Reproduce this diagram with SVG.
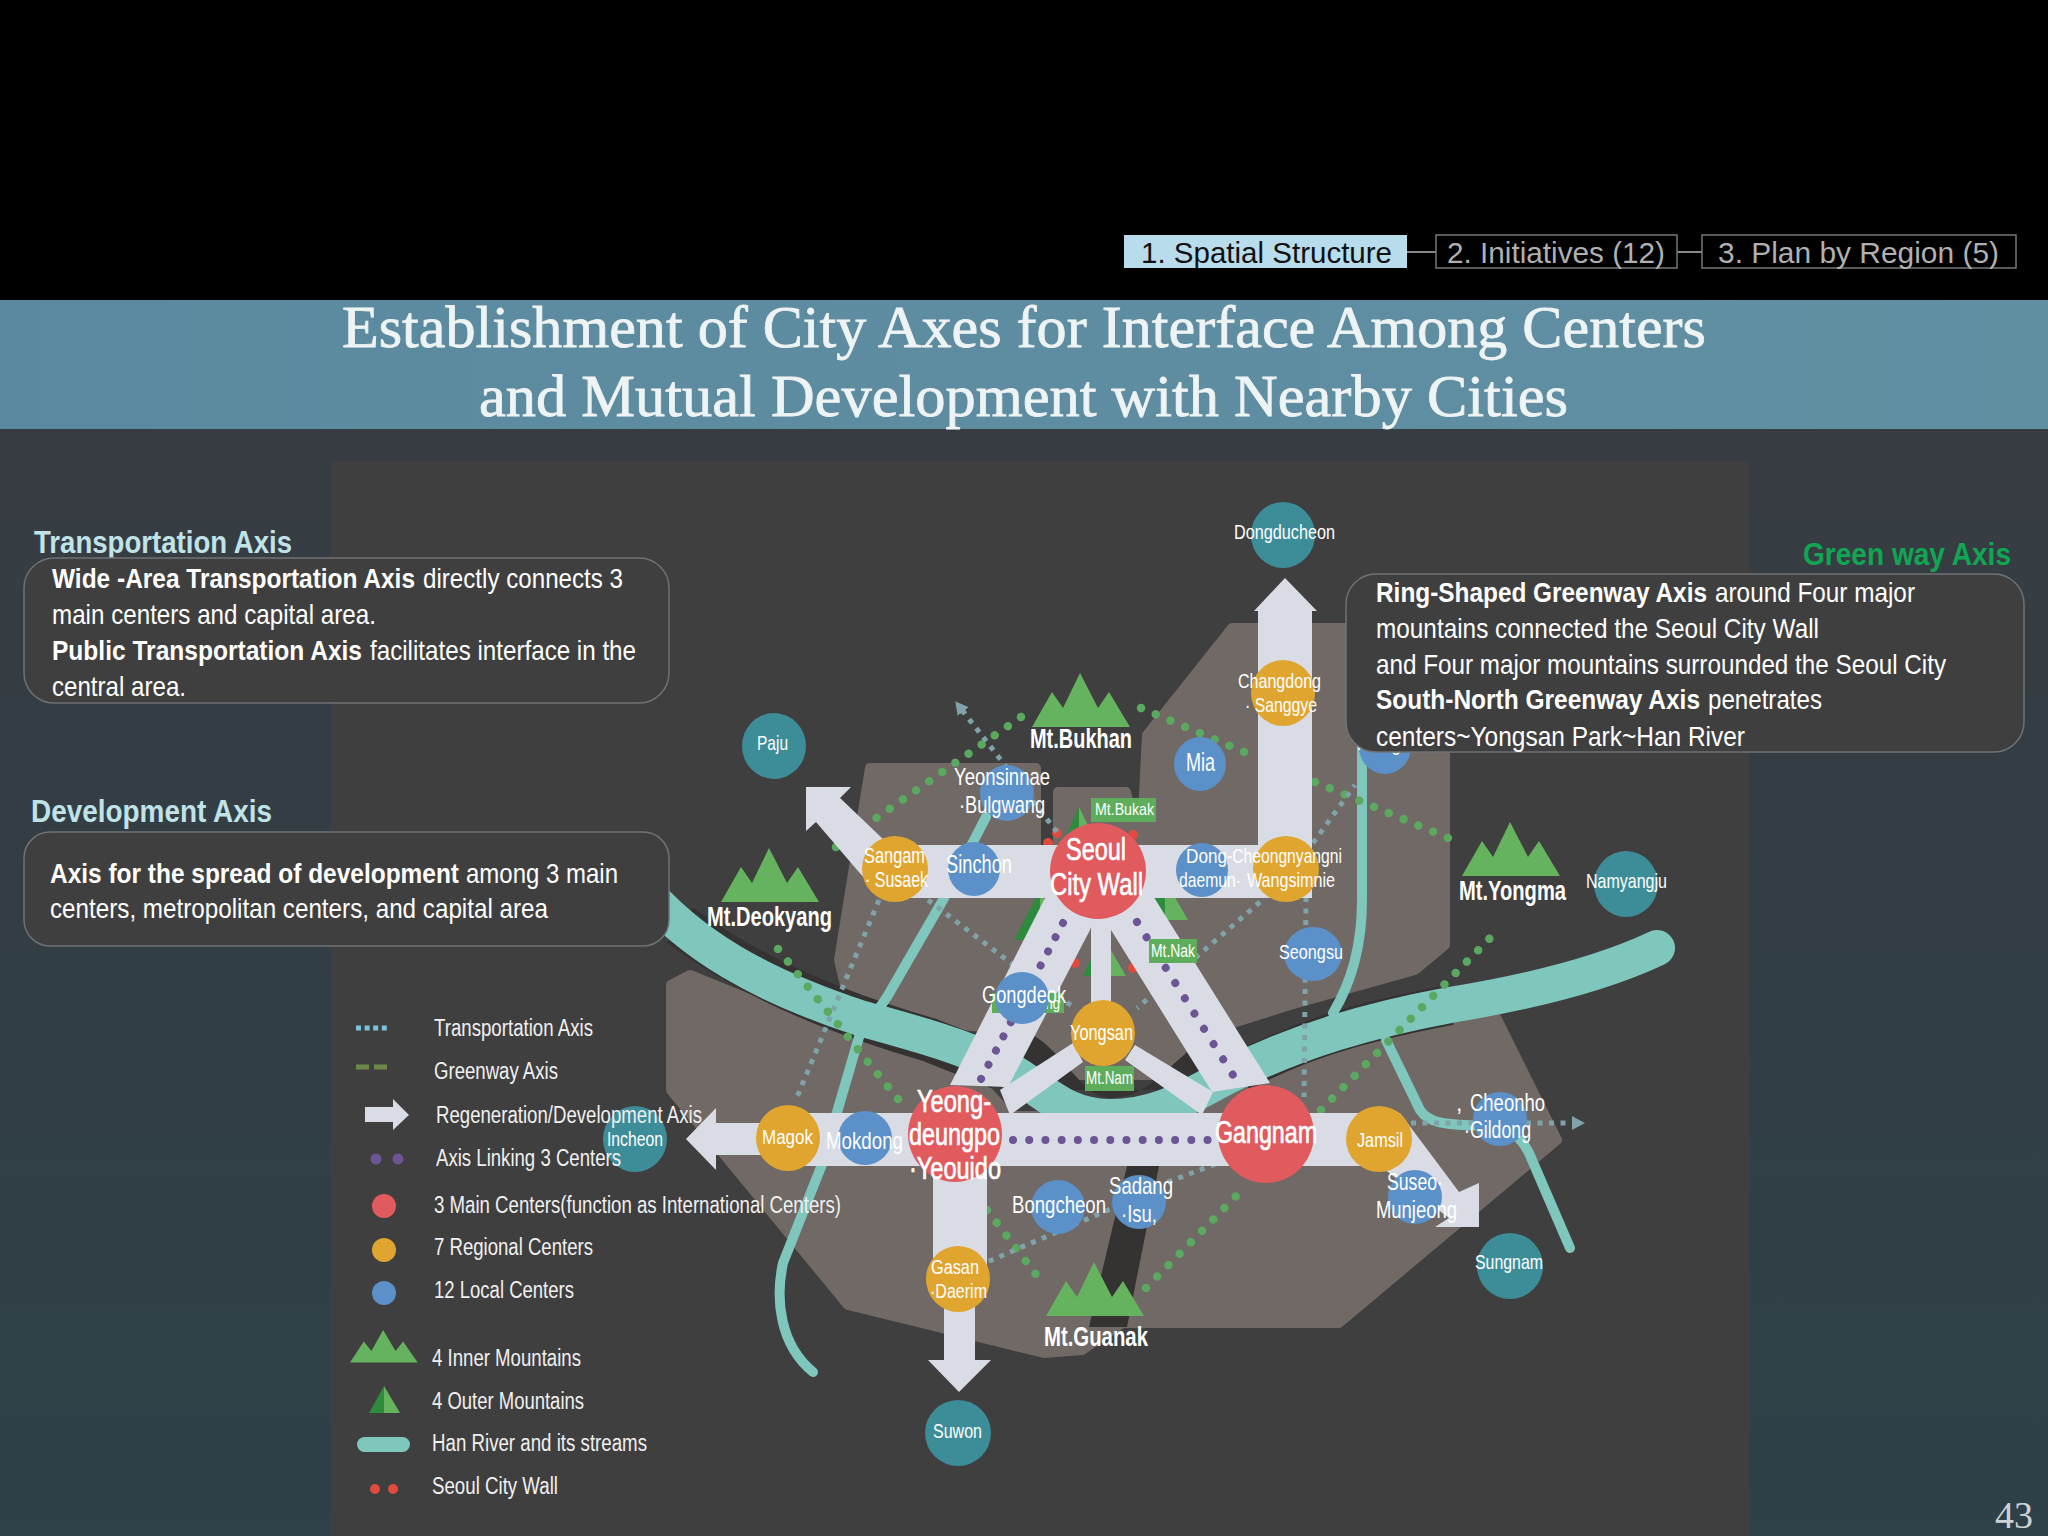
<svg xmlns="http://www.w3.org/2000/svg" width="2048" height="1536" viewBox="0 0 2048 1536">
<style>
text{font-family:"Liberation Sans",Arial,sans-serif}
.n{fill:#fff}
.big{stroke:#fff;stroke-width:.7}
.bar{fill:#d9dce4}
.land{fill:#716965;stroke:#716965;stroke-width:10;stroke-linejoin:round}
.river{fill:none;stroke:#7fc6bc}
.stream{fill:none;stroke:#7fc6bc;stroke-width:10;stroke-linecap:round;stroke-linejoin:round}
.bank{fill:none;stroke:#343332}
.mtn{fill:#66b35f}
.g{fill:none;stroke:#5ba961;stroke-width:8.5;stroke-linecap:round;stroke-dasharray:0.01 16}
.p{fill:none;stroke:#6d5494;stroke-width:8;stroke-linecap:round}
.t{fill:none;stroke:#7fa3a9;stroke-width:5;stroke-dasharray:5 6.5}
.red{fill:#e05a5e}.yel{fill:#dfa52f}.blu{fill:#5b90c8}.tea{fill:#3d8d99}
.lab{fill:#5dad5c}
.box{fill:#403f40;stroke:#6e7274;stroke-width:1.5}
.body{fill:#fff;font-size:28px}
.leg{fill:#f0f0f0;font-size:23px}
.tab{fill:none;stroke:#777;stroke-width:1.5}
.tabt{font-size:29px;fill:#b0b0b0}
.wall{fill:#df4b3d}
</style>
<defs>
<linearGradient id="bg" x1="0" y1="0" x2="0" y2="1"><stop offset="0" stop-color="#373c42"/><stop offset="1" stop-color="#2e4148"/></linearGradient>
<linearGradient id="band" x1="0" y1="0" x2="1" y2="0"><stop offset="0" stop-color="#5b8aa0"/><stop offset="1" stop-color="#618fa2"/></linearGradient>
<path id="mt" d="M0,54 L20,19 L31,35 L48,0 L66,35 L77,19 L98,54 Z"/>
<marker id="ah" markerUnits="userSpaceOnUse" markerWidth="14" markerHeight="16" refX="2" refY="8" orient="auto"><path d="M0,1 L13,8 L0,15 Z" fill="#7fa3a9"/></marker>
</defs>

<g id="background">
<rect width="2048" height="1536" fill="#000"/>
<rect y="429" width="2048" height="1107" fill="url(#bg)"/>
<rect y="300" width="2048" height="129" fill="url(#band)"/>
<rect x="331" y="461" width="1418" height="1075" fill="#403f3f"/>
</g>

<g id="tabs">
<path d="M1407,252H1436M1677,252H1702" stroke="#888" stroke-width="2"/>
<g id="tab1"><rect x="1124" y="235" width="283" height="33" fill="#b9dcec"/><text x="1141" y="263" font-size="29" fill="#111" textLength="251" lengthAdjust="spacingAndGlyphs">1. Spatial Structure</text></g>
<g id="tab2"><rect class="tab" x="1436" y="235" width="241" height="33"/><text class="tabt" x="1447" y="263" textLength="218" lengthAdjust="spacingAndGlyphs">2. Initiatives (12)</text></g>
<g id="tab3"><rect class="tab" x="1702" y="235" width="314" height="33"/><text class="tabt" x="1718" y="263" textLength="281" lengthAdjust="spacingAndGlyphs">3. Plan by Region (5)</text></g>
</g>

<g id="title" fill="#eef3f4" stroke="#eef3f4" stroke-width=".8" font-size="60">
<text x="342" y="347" style="font-family:'Liberation Serif',serif" textLength="1364" lengthAdjust="spacingAndGlyphs">Establishment of City Axes for Interface Among Centers</text>
<text x="479" y="416" style="font-family:'Liberation Serif',serif" textLength="1089" lengthAdjust="spacingAndGlyphs">and Mutual Development with Nearby Cities</text>
</g>

<g id="land">
<path class="land" d="M870,768 L1036,768 L1036,855 L1058,855 L1058,792 L1126,792 L1141,855 L1147,735 L1232,628 L1445,628 L1445,945 L1415,970 L1290,1005 L1195,1035 L1160,1075 L1060,1075 L1020,1030 L960,1025 L845,985 L839,960 Z"/>
<path class="land" d="M671,985 L690,975 L800,1020 L960,1060 L1010,1116 L1200,1116 L1240,1085 L1400,1035 L1495,1015 L1557,1140 L1339,1323 L1122,1323 L1082,1350 L1044,1353 L848,1305 L671,1090 Z"/>
<path d="M1127,1166 L1159,1166 L1127,1327 L1089,1327 Z" fill="#343332"/>
<path d="M1020,1030 C1060,1040 1080,1100 1112,1098 C1150,1098 1170,1060 1205,1040 L1215,1090 L1010,1090 Z" fill="#343332"/>
</g>

<g id="rivers">
<path class="bank" stroke-width="44" d="M680,925 C760,985 860,1020 930,1040 L1000,1068"/>
<path class="bank" stroke-width="40" d="M1240,1072 C1300,1040 1360,1022 1450,1005"/>
<path class="river" stroke-width="36" stroke-linecap="round" d="M640,885 C690,945 760,985 860,1018 C910,1032 960,1045 1000,1065 C1040,1085 1060,1117 1110,1117 C1160,1117 1190,1095 1230,1075 C1300,1040 1370,1020 1450,1005 C1530,992 1600,975 1657,948"/>
<path class="stream" d="M986,817 L943,900 L887,997 L859,1037 L821,1167 L783,1263 C775,1300 780,1345 813,1372"/>
<path class="stream" d="M1362,745 L1362,900 C1362,950 1350,985 1333,1013"/>
<path class="stream" d="M1386,1040 L1420,1110 C1430,1125 1450,1124 1480,1126 C1510,1128 1520,1135 1529,1153 L1570,1248"/>
</g>

<g id="mountains">
<use href="#mt" class="mtn" id="mt-bukhan" x="1032" y="673"/>
<use href="#mt" class="mtn" id="mt-deokyang" x="721" y="848"/>
<use href="#mt" class="mtn" id="mt-yongma" x="1462" y="822"/>
<use href="#mt" class="mtn" id="mt-guanak" transform="translate(1046,1262)"/>
<g id="outer-mountains">
<path d="M1079,807 L1055,860 H1079Z" fill="#2e8b3e"/><path d="M1079,807 L1105,860 H1079Z" fill="#66b35f"/>
<path d="M1040,890 L1014,940 H1040Z" fill="#2e8b3e"/><path d="M1040,890 L1062,940 H1040Z" fill="#66b35f"/>
<path d="M1165,880 L1145,920 H1165Z" fill="#2e8b3e"/><path d="M1165,880 L1188,920 H1165Z" fill="#66b35f"/>
<path d="M1102,935 L1083,976 H1102Z" fill="#2e8b3e"/><path d="M1102,935 L1126,976 H1102Z" fill="#66b35f"/>
</g>
<g id="wall-dots">
<circle class="wall" cx="1057" cy="833" r="5"/><circle class="wall" cx="1048" cy="843" r="5"/><circle class="wall" cx="1133" cy="835" r="5"/><circle class="wall" cx="1075" cy="963" r="5"/><circle class="wall" cx="1133" cy="968" r="5"/>
</g>
</g>

<g id="connectors">
<g id="greenway">
<path class="g" d="M1021,717 L875,819"/><path class="g" d="M836,847 L823,856"/>
<path class="g" d="M778,949 L808,987 L837,1023 L867,1061 L907,1110"/>
<path class="g" d="M987,1210 L1044,1285"/>
<path class="g" d="M1146,1288 L1245,1187"/>
<path class="g" d="M1321,1110 L1497,931"/>
<path class="g" d="M1141,708 L1256,757"/>
<path class="g" d="M1315,782 L1460,843"/>
</g>
<g id="transport">
<path class="t" d="M1057,832 L962,710" marker-end="url(#ah)"/>
<path class="t" d="M879,900 L797,1097"/>
<path class="t" d="M928,900 L1020,970 L1072,1006"/>
<path class="t" d="M1260,902 L1137,1008"/>
<path class="t" d="M1313,843 L1355,785"/>
<path class="t" d="M1306,897 L1304,1097"/>
<path class="t" d="M1411,1123 H1574" marker-end="url(#ah)"/>
<path class="t" d="M1226,1160 L1160,1185 L1120,1205 L987,1262"/>
</g>
<g id="development-arrows">
<path class="bar" d="M895,845 H1258 V611 H1254 L1285,578 L1317,611 H1312 V898 H895 Z"/>
<path class="bar" d="M806,787 H851 L840,798 L905,860 L870,885 L816,822 L806,831 Z"/>
<path class="bar" d="M1372,1113 H1400 L1459,1192 L1479,1183 V1227 H1435 L1449,1218 L1372,1160 Z"/>
<path class="bar" d="M686,1139 L716,1108 V1123 H790 V1113 H1400 V1166 H790 V1155 H716 V1170 Z"/>
<path class="bar" d="M933,1150 H987 V1279 H975 V1360 H991 L959,1392 L928,1360 H944 V1279 H933 Z"/>
<path class="bar" d="M1044,900 L1060,870 H1100 V900 L1090,930 L1008,1087 L950,1085 Z"/>
<path class="bar" d="M1155,899 L1270,1083 L1212,1092 L1111,930 L1100,900 V870 H1140 Z"/>
<path class="bar" d="M1091,900 H1111 V1040 H1091 Z"/>
<path class="bar" d="M1073,1043 L1083,1062 L1010,1115 L1000,1090 Z"/>
<path class="bar" d="M1135,1045 L1213,1092 L1202,1115 L1125,1060 Z"/>
</g>
<g id="linking-axis">
<path class="p" stroke-dasharray="0.01 16" d="M1063,923 L981,1079"/>
<path class="p" stroke-dasharray="0.01 18" d="M1137,922 L1238,1083"/>
<path class="p" stroke-dasharray="0.01 16.2" d="M1013,1140 H1208"/>
</g>
</g>

<g id="label-bukak"><rect class="lab" x="1091" y="798" width="65" height="24"/><text class="n" x="1095" y="815" font-size="17" textLength="59" lengthAdjust="spacingAndGlyphs">Mt.Bukak</text></g>
<g id="label-inwang"><rect class="lab" x="992" y="993" width="72" height="20"/><text class="n" x="1000" y="1009" font-size="17" textLength="60" lengthAdjust="spacingAndGlyphs">Mt.Inwang</text></g>
<g id="label-nam"><rect class="lab" x="1085" y="1066" width="49" height="25"/><text class="n" x="1086" y="1084" font-size="18" textLength="47" lengthAdjust="spacingAndGlyphs">Mt.Nam</text></g>

<g id="node-dongducheon"><ellipse class="tea" cx="1283" cy="535" rx="32" ry="33"/><text class="n" x="1234" y="539" font-size="21" textLength="101" lengthAdjust="spacingAndGlyphs">Dongducheon</text></g>
<g id="node-paju"><ellipse class="tea" cx="774" cy="746" rx="32" ry="33"/><text class="n" x="757" y="750" font-size="21" textLength="31" lengthAdjust="spacingAndGlyphs">Paju</text></g>
<g id="node-mia"><ellipse class="blu" cx="1200" cy="764" rx="26" ry="27"/><text class="n" x="1186" y="771" font-size="26" textLength="29" lengthAdjust="spacingAndGlyphs">Mia</text></g>
<g id="node-yeonsinnae"><ellipse class="blu" cx="1007" cy="793" rx="27" ry="28"/><text class="n" x="954" y="785" font-size="24" textLength="96" lengthAdjust="spacingAndGlyphs">Yeonsinnae</text><text class="n" x="959" y="813" font-size="24" textLength="86" lengthAdjust="spacingAndGlyphs">·Bulgwang</text></g>
<g id="node-mangu"><ellipse class="blu" cx="1385" cy="747" rx="26" ry="27"/><text class="n" x="1357" y="750" font-size="23" textLength="54" lengthAdjust="spacingAndGlyphs">Mangu</text></g>
<g id="node-changdong"><ellipse class="yel" cx="1283" cy="693" rx="32" ry="33"/><text class="n" x="1238" y="688" font-size="21" textLength="83" lengthAdjust="spacingAndGlyphs">Changdong</text><text class="n" x="1245" y="712" font-size="21" textLength="72" lengthAdjust="spacingAndGlyphs">· Sanggye</text></g>
<g id="node-sangam"><ellipse class="yel" cx="895" cy="869" rx="33" ry="33"/><text class="n" x="864" y="863" font-size="22" textLength="61" lengthAdjust="spacingAndGlyphs">Sangam</text><text class="n" x="865" y="887" font-size="22" textLength="63" lengthAdjust="spacingAndGlyphs">· Susaek</text></g>
<g id="node-sinchon"><ellipse class="blu" cx="974" cy="869" rx="26" ry="27"/><text class="n" x="946" y="873" font-size="26" textLength="66" lengthAdjust="spacingAndGlyphs">Sinchon</text></g>
<g id="node-seoul"><ellipse class="red" cx="1098" cy="871" rx="48" ry="48"/><text class="n big" x="1066" y="860" font-size="31" textLength="60" lengthAdjust="spacingAndGlyphs">Seoul</text><text class="n big" x="1050" y="895" font-size="31" textLength="93" lengthAdjust="spacingAndGlyphs">City Wall</text></g>
<g id="node-dongdaemun"><ellipse class="blu" cx="1202" cy="870" rx="26" ry="27"/><text class="n" x="1186" y="863" font-size="21" textLength="41" lengthAdjust="spacingAndGlyphs">Dong</text><text class="n" x="1179" y="887" font-size="21" textLength="62" lengthAdjust="spacingAndGlyphs">daemun·</text></g>
<g id="node-cheongnyangni"><ellipse class="yel" cx="1286" cy="869" rx="33" ry="33"/><text class="n" x="1227" y="863" font-size="21" textLength="115" lengthAdjust="spacingAndGlyphs">-Cheongnyangni</text><text class="n" x="1247" y="887" font-size="21" textLength="88" lengthAdjust="spacingAndGlyphs">Wangsimnie</text></g>
<g id="node-seongsu"><ellipse class="blu" cx="1313" cy="954" rx="29" ry="27"/><text class="n" x="1279" y="959" font-size="21" textLength="64" lengthAdjust="spacingAndGlyphs">Seongsu</text></g>
<g id="node-gongdeok"><ellipse class="blu" cx="1022" cy="998" rx="27" ry="26"/><text class="n" x="982" y="1003" font-size="24" textLength="84" lengthAdjust="spacingAndGlyphs">Gongdeok</text></g>
<g id="node-yongsan"><ellipse class="yel" cx="1103" cy="1033" rx="32" ry="33"/><text class="n" x="1070" y="1040" font-size="22" textLength="63" lengthAdjust="spacingAndGlyphs">Yongsan</text></g>
<g id="node-yeongdeungpo"><ellipse class="red" cx="955" cy="1134" rx="47" ry="48"/><text class="n big" x="917" y="1112" font-size="31" textLength="74" lengthAdjust="spacingAndGlyphs">Yeong-</text><text class="n big" x="909" y="1145" font-size="31" textLength="91" lengthAdjust="spacingAndGlyphs">deungpo</text><text class="n big" x="909" y="1179" font-size="31" textLength="92" lengthAdjust="spacingAndGlyphs">·Yeouido</text></g>
<g id="node-gangnam"><ellipse class="red" cx="1266" cy="1134" rx="48" ry="49"/><text class="n big" x="1215" y="1143" font-size="31" textLength="102" lengthAdjust="spacingAndGlyphs">Gangnam</text></g>
<g id="node-magok"><ellipse class="yel" cx="788" cy="1138" rx="32" ry="33"/><text class="n" x="762" y="1144" font-size="20" textLength="51" lengthAdjust="spacingAndGlyphs">Magok</text></g>
<g id="node-mokdong"><ellipse class="blu" cx="865" cy="1138" rx="27" ry="27"/><text class="n" x="826" y="1149" font-size="24" textLength="77" lengthAdjust="spacingAndGlyphs">Mokdong</text></g>
<g id="node-jamsil"><ellipse class="yel" cx="1379" cy="1139" rx="33" ry="33"/><text class="n" x="1357" y="1147" font-size="20" textLength="46" lengthAdjust="spacingAndGlyphs">Jamsil</text></g>
<g id="node-cheonho"><ellipse class="blu" cx="1500" cy="1119" rx="27" ry="27"/><text class="n" x="1456" y="1111" font-size="23">,</text><text class="n" x="1470" y="1111" font-size="23" textLength="75" lengthAdjust="spacingAndGlyphs">Cheonho</text><text class="n" x="1464" y="1138" font-size="23" textLength="67" lengthAdjust="spacingAndGlyphs">·Gildong</text></g>
<g id="node-suseo"><ellipse class="blu" cx="1415" cy="1197" rx="27" ry="27"/><text class="n" x="1387" y="1190" font-size="23" textLength="56" lengthAdjust="spacingAndGlyphs">Suseo·</text><text class="n" x="1376" y="1218" font-size="23" textLength="81" lengthAdjust="spacingAndGlyphs">Munjeong</text></g>
<g id="node-sungnam"><ellipse class="tea" cx="1510" cy="1266" rx="33" ry="33"/><text class="n" x="1475" y="1269" font-size="21" textLength="68" lengthAdjust="spacingAndGlyphs">Sungnam</text></g>
<g id="node-sadang"><ellipse class="blu" cx="1139" cy="1202" rx="27" ry="27"/><text class="n" x="1109" y="1194" font-size="24" textLength="64" lengthAdjust="spacingAndGlyphs">Sadang</text><text class="n" x="1121" y="1222" font-size="24" textLength="36" lengthAdjust="spacingAndGlyphs">·Isu,</text></g>
<g id="node-bongcheon"><ellipse class="blu" cx="1058" cy="1207" rx="27" ry="27"/><text class="n" x="1012" y="1213" font-size="24" textLength="94" lengthAdjust="spacingAndGlyphs">Bongcheon</text></g>
<g id="node-gasan"><ellipse class="yel" cx="958" cy="1279" rx="32" ry="33"/><text class="n" x="931" y="1274" font-size="20" textLength="48" lengthAdjust="spacingAndGlyphs">Gasan</text><text class="n" x="930" y="1298" font-size="20" textLength="57" lengthAdjust="spacingAndGlyphs">·Daerim</text></g>
<g id="node-suwon"><ellipse class="tea" cx="958" cy="1433" rx="33" ry="33"/><text class="n" x="933" y="1438" font-size="21" textLength="49" lengthAdjust="spacingAndGlyphs">Suwon</text></g>
<g id="node-incheon"><ellipse class="tea" cx="635" cy="1139" rx="32" ry="33"/><text class="n" x="607" y="1146" font-size="21" textLength="56" lengthAdjust="spacingAndGlyphs">Incheon</text></g>
<g id="node-namyangju"><ellipse class="tea" cx="1626" cy="884" rx="32" ry="33"/><text class="n" x="1586" y="888" font-size="21" textLength="81" lengthAdjust="spacingAndGlyphs">Namyangju</text></g>
<g id="label-nak"><rect class="lab" x="1149" y="939" width="48" height="24"/><text class="n" x="1151" y="957" font-size="18" textLength="44" lengthAdjust="spacingAndGlyphs">Mt.Nak</text></g>
<g id="mountain-names" font-size="27" font-weight="bold" fill="#fff">
<text x="1030" y="748" textLength="102" lengthAdjust="spacingAndGlyphs">Mt.Bukhan</text>
<text x="707" y="926" textLength="125" lengthAdjust="spacingAndGlyphs">Mt.Deokyang</text>
<text x="1459" y="900" textLength="107" lengthAdjust="spacingAndGlyphs">Mt.Yongma</text>
<text x="1044" y="1346" textLength="104" lengthAdjust="spacingAndGlyphs">Mt.Guanak</text>
</g>

<g id="legend">
<path d="M356,1028H387" stroke="#7cc4dc" stroke-width="5" stroke-dasharray="5 3.6" fill="none"/>
<path d="M356,1067H387" stroke="#6b8a4a" stroke-width="5" stroke-dasharray="13 5" fill="none"/>
<path class="bar" d="M365,1107 H393 V1099 L409,1115 L393,1130 V1122 H365 Z"/>
<circle cx="376" cy="1159" r="5.5" fill="#6d5494"/><circle cx="398" cy="1159" r="5.5" fill="#6d5494"/>
<circle class="red" cx="384" cy="1206" r="12"/>
<circle class="yel" cx="384" cy="1250" r="12"/>
<circle class="blu" cx="384" cy="1293" r="12"/>
<use href="#mt" class="mtn" transform="translate(350,1330) scale(0.69,0.6)"/>
<path d="M384,1386 L369,1413 H384Z" fill="#2e8b3e"/><path d="M384,1386 L400,1413 H384Z" fill="#66b35f"/>
<rect x="357" y="1437" width="53" height="15" rx="7.5" fill="#7fc6bc"/>
<circle class="wall" cx="375" cy="1489" r="5"/><circle class="wall" cx="393" cy="1489" r="5"/>
<text class="leg" x="434" y="1036" textLength="159" lengthAdjust="spacingAndGlyphs">Transportation Axis</text>
<text class="leg" x="434" y="1079" textLength="124" lengthAdjust="spacingAndGlyphs">Greenway Axis</text>
<text class="leg" x="436" y="1123" textLength="266" lengthAdjust="spacingAndGlyphs">Regeneration/Development Axis</text>
<text class="leg" x="436" y="1166" textLength="185" lengthAdjust="spacingAndGlyphs">Axis Linking 3 Centers</text>
<text class="leg" x="434" y="1213" textLength="407" lengthAdjust="spacingAndGlyphs">3 Main Centers(function as International Centers)</text>
<text class="leg" x="434" y="1255" textLength="159" lengthAdjust="spacingAndGlyphs">7 Regional Centers</text>
<text class="leg" x="434" y="1298" textLength="140" lengthAdjust="spacingAndGlyphs">12 Local Centers</text>
<text class="leg" x="432" y="1366" textLength="149" lengthAdjust="spacingAndGlyphs">4 Inner Mountains</text>
<text class="leg" x="432" y="1409" textLength="152" lengthAdjust="spacingAndGlyphs">4 Outer Mountains</text>
<text class="leg" x="432" y="1451" textLength="215" lengthAdjust="spacingAndGlyphs">Han River and its streams</text>
<text class="leg" x="432" y="1494" textLength="126" lengthAdjust="spacingAndGlyphs">Seoul City Wall</text>
</g>

<g id="transportation-note">
<text x="34" y="553" font-size="31" font-weight="bold" fill="#bfe3e8" textLength="258" lengthAdjust="spacingAndGlyphs">Transportation Axis</text>
<rect class="box" x="24" y="558" width="645" height="145" rx="30"/>
<text class="body" y="588"><tspan x="52" font-weight="bold" textLength="363" lengthAdjust="spacingAndGlyphs">Wide -Area Transportation Axis</tspan><tspan x="423" textLength="200" lengthAdjust="spacingAndGlyphs">directly connects 3</tspan></text>
<text class="body" x="52" y="624" textLength="324" lengthAdjust="spacingAndGlyphs">main centers and capital area.</text>
<text class="body" y="660"><tspan x="52" font-weight="bold" textLength="310" lengthAdjust="spacingAndGlyphs">Public Transportation Axis</tspan><tspan x="370" textLength="266" lengthAdjust="spacingAndGlyphs">facilitates interface in the</tspan></text>
<text class="body" x="52" y="696" textLength="134" lengthAdjust="spacingAndGlyphs">central area.</text>
</g>
<g id="development-note">
<text x="31" y="822" font-size="31" font-weight="bold" fill="#bfe3e8" textLength="241" lengthAdjust="spacingAndGlyphs">Development Axis</text>
<rect class="box" x="24" y="832" width="645" height="114" rx="26"/>
<text class="body" y="883"><tspan x="50" font-weight="bold" textLength="409" lengthAdjust="spacingAndGlyphs">Axis for the spread of development</tspan><tspan x="466" textLength="152" lengthAdjust="spacingAndGlyphs">among 3 main</tspan></text>
<text class="body" x="50" y="918" textLength="498" lengthAdjust="spacingAndGlyphs">centers, metropolitan centers, and capital area</text>
</g>
<g id="greenway-note">
<text x="1803" y="565" font-size="31" font-weight="bold" fill="#11a654" textLength="208" lengthAdjust="spacingAndGlyphs">Green way Axis</text>
<rect class="box" x="1346" y="574" width="678" height="178" rx="30"/>
<text class="body" y="602"><tspan x="1376" font-weight="bold" textLength="331" lengthAdjust="spacingAndGlyphs">Ring-Shaped Greenway Axis</tspan><tspan x="1715" textLength="200" lengthAdjust="spacingAndGlyphs">around Four major</tspan></text>
<text class="body" x="1376" y="638" textLength="443" lengthAdjust="spacingAndGlyphs">mountains connected the Seoul City Wall</text>
<text class="body" x="1376" y="674" textLength="570" lengthAdjust="spacingAndGlyphs">and Four major mountains surrounded the Seoul City</text>
<text class="body" y="709"><tspan x="1376" font-weight="bold" textLength="324" lengthAdjust="spacingAndGlyphs">South-North Greenway Axis</tspan><tspan x="1708" textLength="114" lengthAdjust="spacingAndGlyphs">penetrates</tspan></text>
<text class="body" x="1376" y="746" textLength="369" lengthAdjust="spacingAndGlyphs">centers~Yongsan Park~Han River</text>
</g>
<text id="page-number" x="1995" y="1528" font-size="38" fill="#cfd2d4" style="font-family:'Liberation Serif',serif">43</text>
</svg>
